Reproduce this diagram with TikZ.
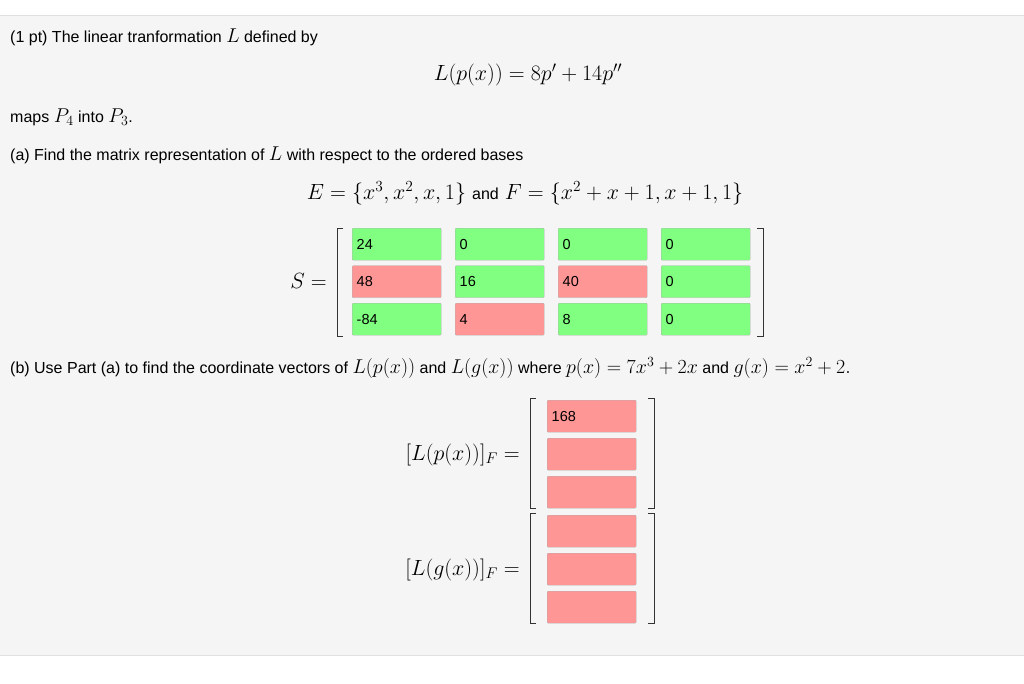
\documentclass[tikz,border=0pt]{standalone}
\usepackage{fix-cm}
\usepackage{fontspec}
\setmainfont{Liberation Sans}
\begin{document}
\begin{tikzpicture}[x=1pt,y=-1pt,
  txt/.style={anchor=west,inner sep=0pt,font=\fontsize{16}{18}\selectfont},
  mth/.style={inner sep=0pt,font=\fontsize{22}{24}\selectfont},
  cell/.style={draw=black!30,rounded corners=1pt,minimum width=89pt,minimum height=32pt,anchor=north west,inner sep=0pt,font=\fontsize{14.5}{16}\selectfont,text depth=0pt},
  ok/.style={cell,fill={rgb,255:red,128;green,255;blue,128}},
  bad/.style={cell,fill={rgb,255:red,255;green,150;blue,150}},
  brk/.style={line width=1pt,black!80}]
\useasboundingbox (0,0) rectangle (1024,683);
\fill[white] (0,0) rectangle (1024,683);
\fill[black!4] (0,15) rectangle (1024,655);
\draw[black!12] (0,15) -- (1024,15) (0,655) -- (1024,655);
\node[txt] (t1) at (10,37) {(1 pt) The linear tranformation {\fontsize{20}{22}\selectfont$L$} defined by};
\node[mth] (eq) at (528,75) {$L(p(x)) = 8p' + 14p''$};
\node[txt] (t2) at (10,117) {maps {\fontsize{20}{22}\selectfont$P_4$} into {\fontsize{20}{22}\selectfont$P_3$}.};
\node[txt] (t3) at (10,155) {(a) Find the matrix representation of {\fontsize{20}{22}\selectfont$L$} with respect to the ordered bases};
\node[mth] (eb) at (525,193) {$E=\{x^3,x^2,x,1\}$ {\fontsize{16}{18}\selectfont and} $F=\{x^2+x+1,x+1,1\}$};
\node[mth,anchor=east] (S) at (327,281) {$S=$};
\foreach \v/\s [count=\i from 0] in {24/ok,0/ok,0/ok,0/ok,48/bad,16/ok,40/bad,0/ok,-84/ok,4/bad,8/ok,0/ok}{
  \pgfmathtruncatemacro\c{mod(\i,4)}\pgfmathtruncatemacro\r{div(\i,4)}
  \node[\s,text width=80pt,align=left] (m\i) at ({352+103*\c},{228+37.5*\r}) {\v};
}
\draw[brk] (343,228) -- (337,228) -- (337,336) -- (343,336);
\draw[brk] (757,228) -- (763,228) -- (763,336) -- (757,336);
\node[txt] (t4) at (10,368) {(b) Use Part (a) to find the coordinate vectors of {\fontsize{20}{22}\selectfont$L(p(x))$} and {\fontsize{20}{22}\selectfont$L(g(x))$} where {\fontsize{20}{22}\selectfont$p(x)=7x^3+2x$} and {\fontsize{20}{22}\selectfont$g(x)=x^2+2.$}};
\node[mth,anchor=east] (lp) at (520,455) {$[L(p(x))]_F=$};
\node[mth,anchor=east] (lg) at (520,570) {$[L(g(x))]_F=$};
\node[bad,text width=80pt,align=left] (p1) at (547,400) {168};
\node[bad] (p2) at (547,438) {};
\node[bad] (p3) at (547,476) {};
\node[bad] (g1) at (547,515) {};
\node[bad] (g2) at (547,553) {};
\node[bad] (g3) at (547,591) {};
\draw[brk] (536,398) -- (530,398) -- (530,508) -- (536,508);
\draw[brk] (648,398) -- (654,398) -- (654,508) -- (648,508);
\draw[brk] (536,513) -- (530,513) -- (530,623) -- (536,623);
\draw[brk] (648,513) -- (654,513) -- (654,623) -- (648,623);
\end{tikzpicture}
\end{document}
